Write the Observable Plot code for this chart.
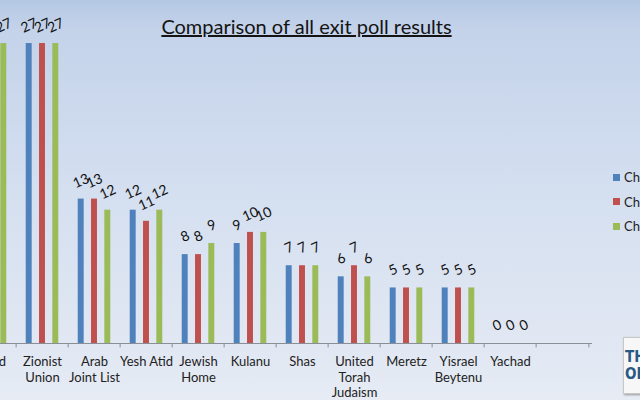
<!DOCTYPE html>
<html><head><meta charset="utf-8">
<script src="https://cdn.jsdelivr.net/npm/d3@7"></script>
<script src="https://cdn.jsdelivr.net/npm/@observablehq/plot@0.6"></script>
<style>
html,body{margin:0;padding:0;width:640px;height:400px;overflow:hidden;}
body{position:relative;background:linear-gradient(to bottom,#b3c7e3 0px,#b9cbe6 8px,#c4d3ea 30px,#d4dff0 190px,#e6ebf4 400px);font-family:Lato,"Open Sans",sans-serif;}
#chart{position:absolute;left:0;top:0;}
#title{position:absolute;top:14px;left:0;width:613px;text-align:center;font-size:20px;text-decoration:underline;color:#141414;white-space:nowrap;}
#legend{position:absolute;left:613px;top:165px;font-size:13px;color:#222;}
#legend div{height:24.5px;display:flex;align-items:center;white-space:nowrap;}
#legend span.sw{display:inline-block;width:7px;height:7px;margin-right:4px;}
#logo{position:absolute;left:623px;top:337px;width:90px;height:55px;background:#f7f7f7;border:1px solid #c8c8c8;box-shadow:1px 1px 2px #999;}
#logo div{font-family:"Liberation Sans Narrow","DejaVu Sans Condensed",sans-serif;font-weight:bold;color:#285a86;font-size:15px;line-height:17px;height:17px;padding-left:1px;white-space:nowrap;}
</style></head>
<body>
<div id="chart"></div>
<div id="title">Comparison of all exit poll results</div>
<div id="legend"></div>
<div id="logo"><div style="margin-top:11px">THE TIMES</div><div>OF ISRAEL</div></div>
<script>
const categories = ["Likud","Zionist\nUnion","Arab\nJoint List","Yesh Atid","Jewish\nHome","Kulanu","Shas","United\nTorah\nJudaism","Meretz","Yisrael\nBeytenu","Yachad"];
const slots = [...categories, ""];
const seriesNames = ["Channel 2","Channel 10","Channel 1"];
const channel2 = [28,27,13,12,8,9,7,6,5,5,0];
const channel10 = [27,27,13,11,8,10,7,7,5,5,0];
const channel1 = [27,27,12,12,9,10,7,6,5,5,0];
const seriesValues = [channel2, channel10, channel1];
const colors = ["#4f81bd","#c0504d","#9bbb59"];

const xRange = [-41, 592];
const bw = (xRange[1]-xRange[0]) / slots.length;
const offsets = [-13.3, 0, 13.3];
const barInset = (bw - 6.7) / 2;

const marks = [];
marks.push(Plot.ruleY([0], {stroke: "#8a8f96", strokeWidth: 1, insetRight: 48}));
marks.push(Plot.ruleX(slots, {x: d => d, y1: 0, y2: -0.4, dx: -bw/2, stroke: "#8a8f96"}));
marks.push(Plot.ruleX([slots[slots.length-1]], {x: d => d, y1: 0, y2: -0.4, dx: bw/2, stroke: "#8a8f96"}));
seriesValues.forEach((vals, s) => {
  const rows = categories.map((c, i) => ({party: c, seats: vals[i], channel: seriesNames[s]}));
  marks.push(Plot.barY(rows, {x: "party", y: "seats", fill: colors[s], dx: offsets[s], insetLeft: barInset, insetRight: barInset}));
  marks.push(Plot.text(rows, {x: "party", y: "seats", text: d => String(d.seats), dx: offsets[s], dy: -18, rotate: -24, fontSize: 14, fill: "#111"}));
});
marks.push(Plot.axisX({tickSize: 0, tickPadding: 12, fontSize: 13, lineHeight: 1.18, color: "#222", tickFormat: d => d, label: null}));

const chart = Plot.plot({
  width: 640, height: 400,
  marginTop: 9.7, marginBottom: 57, marginLeft: 0, marginRight: 0,
  style: {background: "transparent", fontFamily: "Lato, 'Open Sans', sans-serif", overflow: "hidden"},
  x: {type: "band", domain: slots, range: xRange, padding: 0, axis: null, label: null},
  y: {domain: [0, 30], axis: null},
  marks
});
document.getElementById("chart").appendChild(chart);

const legend = document.getElementById("legend");
seriesNames.forEach((n, i) => {
  const row = document.createElement("div");
  const sw = document.createElement("span");
  sw.className = "sw"; sw.style.background = colors[i];
  row.appendChild(sw);
  row.appendChild(document.createTextNode(n));
  legend.appendChild(row);
});
</script>
</body></html>
